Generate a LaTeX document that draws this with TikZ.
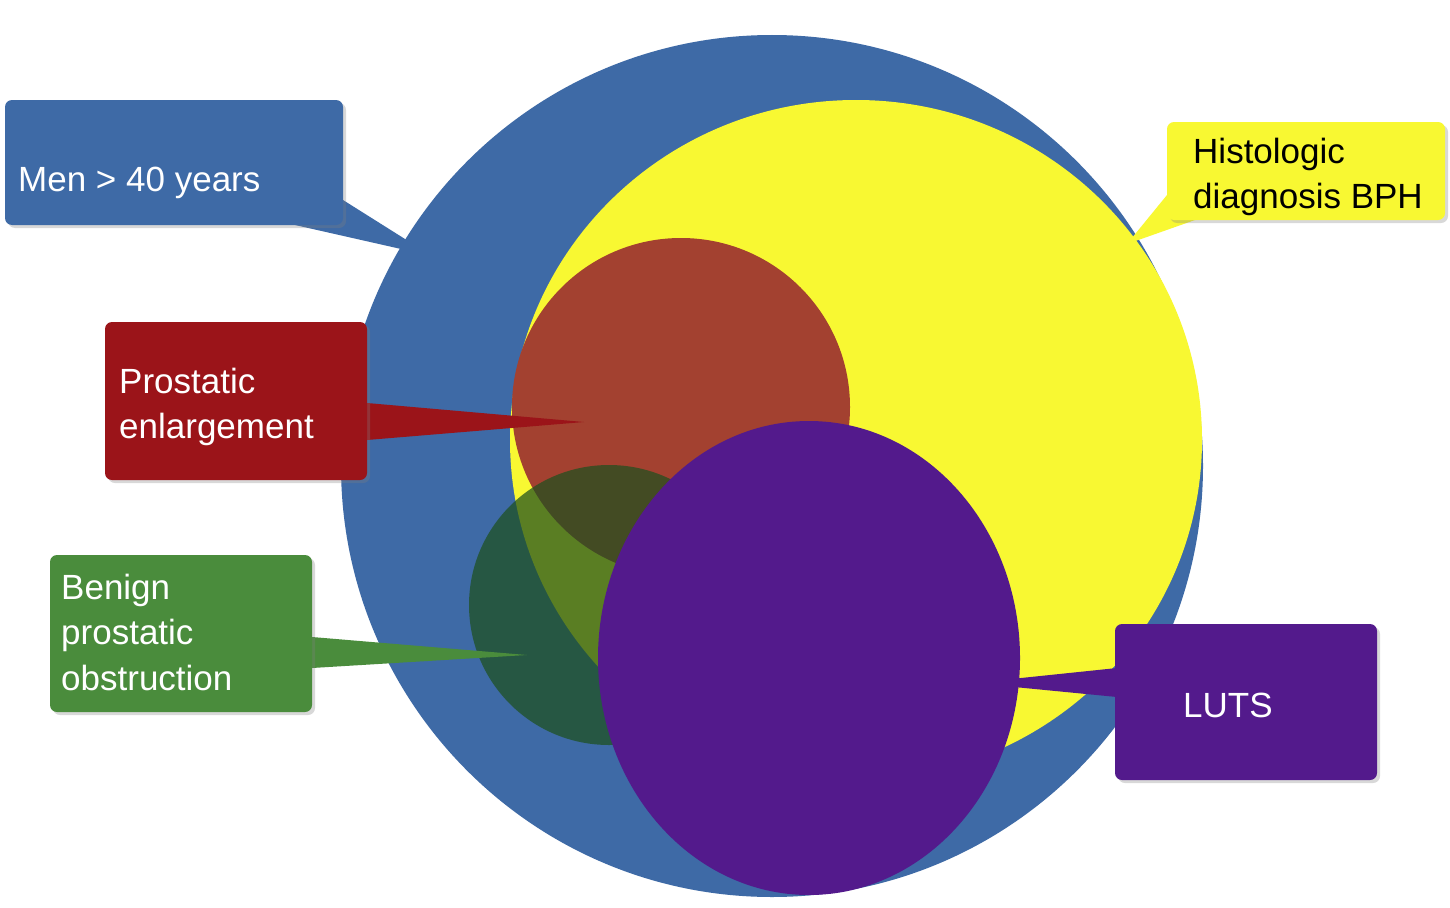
\documentclass[tikz,border=0pt]{standalone}
\usepackage{fontspec}
\setmainfont{Liberation Sans}
\usetikzlibrary{shadows}
\definecolor{cblue}{RGB}{62,106,166}
\definecolor{cyellow}{RGB}{248,248,50}
\definecolor{credc}{RGB}{163,65,48}
\definecolor{credbox}{RGB}{155,20,25}
\definecolor{cgreenc}{RGB}{30,80,30}
\definecolor{cgreenbox}{RGB}{74,140,60}
\definecolor{cpurple}{RGB}{83,26,140}
\begin{document}
\begin{tikzpicture}[x=1pt,y=-1pt,
  callbox/.style={rounded corners=7pt, inner sep=0pt, draw=none,
    drop shadow={opacity=0.3, shadow xshift=3pt, shadow yshift=-3pt}},
  lbl/.style={anchor=base west, inner sep=0pt, font=\fontsize{35}{45}\selectfont, text=white},
  ptr/.style={draw=none}]
\useasboundingbox (0,0) rectangle (1450,907);
\fill[white] (0,0) rectangle (1450,907);
% circles
\fill[cblue] (772,466) circle[radius=431pt];
\fill[cyellow] (856,440) ellipse[x radius=346pt, y radius=340pt];
\fill[credc] (681,407) circle[radius=169pt];
\fill[cgreenc, fill opacity=0.72] (609,605) circle[radius=140pt];
\fill[cpurple] (809,658) ellipse[x radius=211pt, y radius=237pt];
% pointer tips
\coordinate (tipblue) at (432,256);
\coordinate (tipyellow) at (1127,244);
\coordinate (tipred) at (584,422);
\coordinate (tipgreen) at (527,655);
\coordinate (tippurple) at (973,683);
% pointers
\fill[cblue, ptr] (343,200) -- (tipblue) -- (295,225) -- cycle;
\fill[cyellow, ptr] (1167,195) -- (tipyellow) -- (1195,220) -- cycle;
\fill[credbox, ptr] (367,403) -- (tipred) -- (367,440) -- cycle;
\fill[cgreenbox, ptr] (312,637) -- (tipgreen) -- (312,668) -- cycle;
\fill[cpurple, ptr] (1117,668) -- (tippurple) -- (1117,697) -- cycle;
% boxes
\node[callbox, fill=cblue, minimum width=338pt, minimum height=125pt] (bmen) at (174,162.5) {};
\node[callbox, fill=cyellow, minimum width=278pt, minimum height=98pt] (bhist) at (1306,171) {};
\node[callbox, fill=credbox, minimum width=262pt, minimum height=158pt] (bpros) at (236,401) {};
\node[callbox, fill=cgreenbox, minimum width=262pt, minimum height=157pt] (bbpo) at (181,633.5) {};
\node[callbox, fill=cpurple, minimum width=262pt, minimum height=156pt] (bluts) at (1246,702) {};
% labels
\node[lbl] (tmen) at (18,191) {Men > 40 years};
\node[lbl, text=black] (thist1) at (1193,163) {Histologic};
\node[lbl, text=black] (thist2) at (1193,208) {diagnosis BPH};
\node[lbl] (tpros1) at (119,393) {Prostatic};
\node[lbl] (tpros2) at (119,438) {enlargement};
\node[lbl] (tbpo1) at (61,599) {Benign};
\node[lbl] (tbpo2) at (61,644) {prostatic};
\node[lbl] (tbpo3) at (61,690) {obstruction};
\node[lbl] (tluts) at (1183,717) {LUTS};
\end{tikzpicture}
\end{document}
